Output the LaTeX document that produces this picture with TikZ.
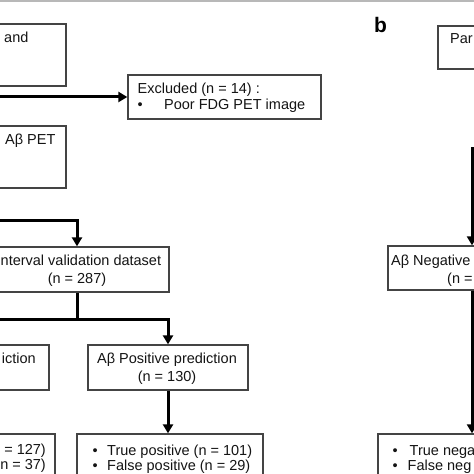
\documentclass[tikz,border=0pt]{standalone}
\usepackage{fontspec}
\setmainfont{Liberation Sans}
\usetikzlibrary{arrows.meta}
\definecolor{boxc}{HTML}{444444}
\definecolor{txtc}{HTML}{141414}
\definecolor{barc}{HTML}{B8B8B8}
\newcommand\figfont{\fontsize{14.5bp}{17bp}\selectfont}
\tikzset{
  box/.style={draw=boxc, line width=1.3bp, rectangle, inner sep=0pt},
  txt/.style={inner sep=0pt, font=\figfont, text=txtc},
  arr/.style={line width=3bp, draw=black, line join=miter, -{Triangle[length=9bp,width=10bp]}},
  ln/.style={line width=3bp, draw=black, line join=miter}
}
\begin{document}
\begin{tikzpicture}[x=1bp, y=-1bp]
\useasboundingbox (0,0) rectangle (474,474);
\begin{scope}
\clip (0,0) rectangle (474,474);
\fill[white] (0,0) rectangle (474,474);
\fill[barc] (0,0) rectangle (474,2.5);
% ---------- panel a ----------
\node[box, minimum width=166bp, minimum height=62bp] (b1) at (-17,55) {};
\node[box, minimum width=166bp, minimum height=62bp] (b2) at (-17,157) {};
\node[box, minimum width=193bp, minimum height=44bp] (exc) at (224.5,97) {};
\node[box, minimum width=184bp, minimum height=45bp] (val) at (77,269.5) {};
\node[box, minimum width=169bp, minimum height=45bp] (negp) at (-35.5,367.5) {};
\node[box, minimum width=160bp, minimum height=45bp] (posp) at (168,367.5) {};
\node[box, minimum width=175bp, minimum height=66bp] (negr) at (-32.5,467) {};
\node[box, minimum width=186bp, minimum height=66bp] (posr) at (170,467) {};

\node[txt, anchor=base west] (t1) at (4,43) {and};
\node[txt, anchor=base west] (t2) at (5,145) {Aβ PET};
\node[txt, anchor=base west] (t3) at (137.5,94) {Excluded (n = 14) :};
\node[txt, anchor=base west] (t4) at (137.5,110) {\makebox[26.5bp][l]{\textbullet}Poor FDG PET image};
\node[txt, anchor=base west] (t5) at (0.5,265) {nterval validation dataset};
\node[txt, anchor=base] (t6) at (77,283) {(n = 287)};
\node[txt, anchor=base east] (t7) at (36,363) {iction};
\node[txt, anchor=base] (t8) at (167,363) {Aβ Positive prediction};
\node[txt, anchor=base] (t9) at (167,381) {(n = 130)};
\node[txt, anchor=base east] (t10) at (46,454) {= 127)};
\node[txt, anchor=base east] (t11) at (46,469) {n = 37)};
\node[txt, anchor=base west] (t12) at (92.5,455) {\makebox[14.5bp][l]{\textbullet}True positive (n = 101)};
\node[txt, anchor=base west] (t13) at (92.5,470) {\makebox[14.5bp][l]{\textbullet}False positive (n = 29)};

\coordinate (s1) at (-10,97);
\draw[arr] (s1) -- (exc.west);
\coordinate (s2) at (-10,220.5);
\draw[arr] (s2) -| (val.north);
\coordinate (sl) at (-10,319);
\draw[ln] (val.south) -- (val.south |- sl);
\draw[arr] (sl) -| (posp.north);
\draw[arr] (posp.south) -- (posp.south |- posr.north);

% ---------- panel b ----------
\node[font=\fontsize{21bp}{24bp}\selectfont\bfseries, inner sep=0pt, anchor=base west] (lb) at (374,33) {b};
\node[box, minimum width=122bp, minimum height=43bp] (par) at (499,47.5) {};
\node[box, minimum width=172bp, minimum height=44bp] (negb) at (474,268) {};
\node[box, minimum width=182bp, minimum height=66bp] (negres) at (469,467) {};

\node[txt, anchor=base west] (u1) at (450,44) {Par};
\node[txt, anchor=base west] (u2) at (391,265) {Aβ Negative};
\node[txt, anchor=base west] (u3) at (447,283) {(n =};
\node[txt, anchor=base west] (u4) at (392.5,455) {\makebox[17bp][l]{\textbullet}True nega};
\node[txt, anchor=base west] (u5) at (392.5,470) {\makebox[15bp][l]{\textbullet}False neg};

\coordinate (r1) at (490,149);
\coordinate (rc) at (472,149);
\draw[arr] (r1) -- (rc) -- (rc |- negb.north);
\draw[arr] (rc |- negb.south) -- (rc |- negres.north);
\end{scope}
\end{tikzpicture}
\end{document}
